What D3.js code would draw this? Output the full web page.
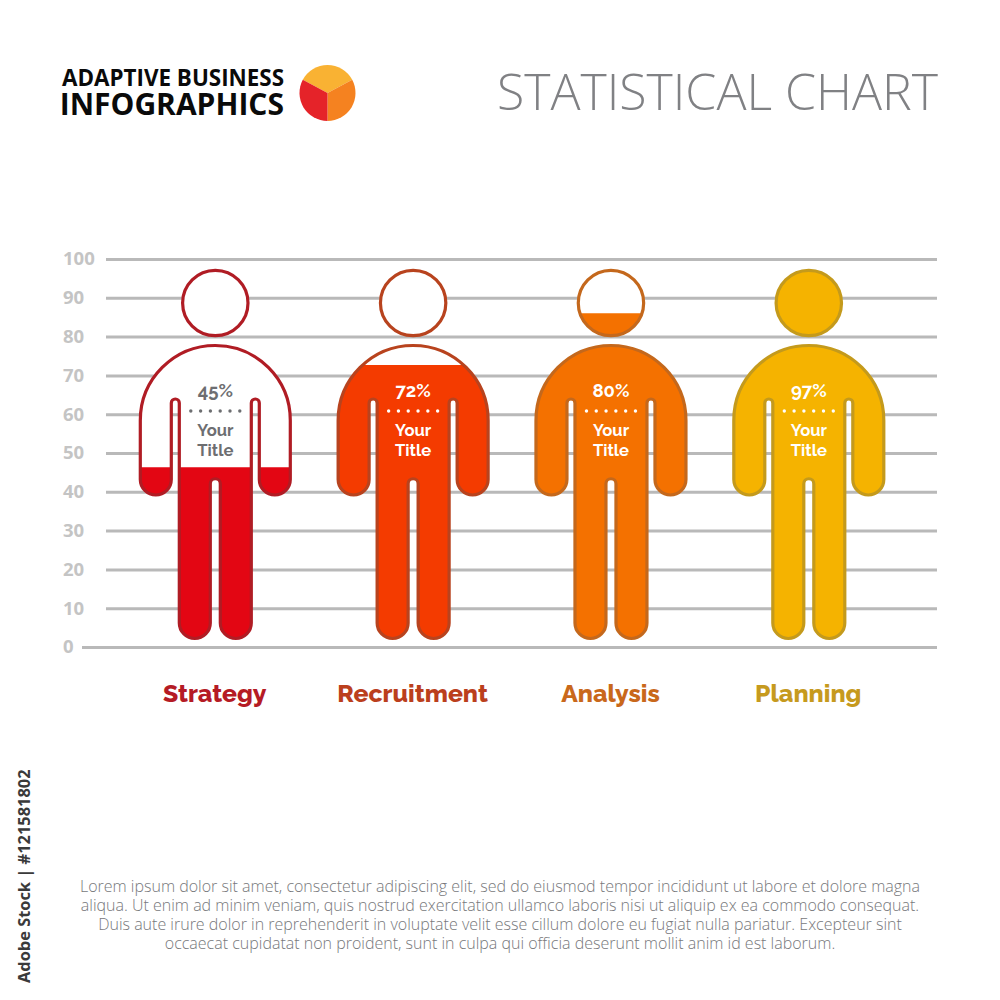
<!DOCTYPE html>
<html><head><meta charset="utf-8">
<script src="https://cdn.jsdelivr.net/npm/d3@7/dist/d3.min.js"></script>
<style>html,body{margin:0;padding:0;background:#fff}svg{display:block}</style>
</head><body><svg id="c" width="1000" height="1000"></svg>
<script>
const categories = ["Strategy","Recruitment","Analysis","Planning"];
const percentLabels = [45,72,80,97];
const fillLevels = [46.3,72.7,86,97];
const fillColors = ["#e30613","#f43b00","#f47100","#f5b300"];
const strokeColors = ["#b01c24","#b8431e","#c4681c","#c49a1c"];
const labelColors = ["#b51b25","#bb3f1d","#c9681b","#c69a1e"];
const textColors = ["#6d6e71","#fff","#fff","#fff"];
const yTicks = [0,10,20,30,40,50,60,70,80,90,100];
const bodyLines = [
 "Lorem ipsum dolor sit amet, consectetur adipiscing elit, sed do eiusmod tempor incididunt ut labore et dolore magna",
 "aliqua. Ut enim ad minim veniam, quis nostrud exercitation ullamco laboris nisi ut aliquip ex ea commodo consequat.",
 "Duis aute irure dolor in reprehenderit in voluptate velit esse cillum dolore eu fugiat nulla pariatur. Excepteur sint",
 "occaecat cupidatat non proident, sunt in culpa qui officia deserunt mollit anim id est laborum."];
const logoShares = [124,118,118];
const logoColors = ["#f9b233","#f58220","#e52329"];

const svg = d3.select("#c");
const y = d3.scaleLinear().domain([0,100]).range([647,259]);
const x = d3.scalePoint().domain(categories).range([215.3,808.8]);

// header
svg.append("text").attr("x",284).attr("y",85.5).attr("text-anchor","end")
 .attr("font-family","Open Sans").attr("font-weight",700).attr("font-size",22.4).attr("fill","#0a0a0a").text("ADAPTIVE BUSINESS");
svg.append("text").attr("x",284).attr("y",115).attr("text-anchor","end")
 .attr("font-family","Open Sans").attr("font-weight",700).attr("font-size",30).attr("fill","#0a0a0a").text("INFOGRAPHICS");
const logo = svg.append("g").attr("transform","translate(327.5,93)");
const pie = d3.pie().sort(null).startAngle(-62*Math.PI/180).endAngle(298*Math.PI/180);
logo.selectAll("path").data(pie(logoShares)).join("path")
 .attr("d",d3.arc().innerRadius(0).outerRadius(28)).attr("fill",(d,i)=>logoColors[i]);
svg.append("text").attr("x",938).attr("y",110).attr("text-anchor","end")
 .attr("font-family","Open Sans").attr("font-weight",300).attr("font-size",50).attr("fill","#808184").text("STATISTICAL CHART");

// axis + gridlines
const axis = d3.axisLeft(y).tickValues(yTicks).tickSize(0).tickPadding(0);
const gAxis = svg.append("g").call(axis);
gAxis.select(".domain").remove();
gAxis.selectAll(".tick text").attr("x",63).attr("text-anchor","start")
 .attr("font-family","Open Sans").attr("font-weight",700).attr("font-size",18.5).attr("fill","#c4c4c4");
gAxis.selectAll(".tick").append("line")
 .attr("x1",d=>d===0?82:106).attr("x2",937).attr("y1",0).attr("y2",0)
 .attr("stroke","#b9b9b9").attr("stroke-width",3);

// person
const bodyPath = () => {
 const p = d3.path();
 p.moveTo(-75,420.5); p.arc(0,420.5,75,Math.PI,0);
 p.lineTo(75,479.5); p.arc(59.5,479.5,15.5,0,Math.PI);
 p.lineTo(44,403); p.arc(40,403,4,0,Math.PI,true);
 p.lineTo(36,623); p.arc(20.5,623,15.5,0,Math.PI);
 p.lineTo(5,483.75); p.arc(0,483.75,5,0,Math.PI,true);
 p.lineTo(-5,623); p.arc(-20.5,623,15.5,0,Math.PI);
 p.lineTo(-36,403); p.arc(-40,403,4,0,Math.PI,true);
 p.lineTo(-44,479.5); p.arc(-59.5,479.5,15.5,0,Math.PI);
 p.closePath();
 return p.toString();
};
const defs = svg.append("defs");
categories.forEach((c,i)=>{
 defs.append("clipPath").attr("id","lvl"+i).append("rect")
  .attr("x",-90).attr("width",180).attr("y",y(fillLevels[i])).attr("height",y(0)-y(fillLevels[i]));
});
const people = svg.selectAll("g.person").data(categories).join("g").attr("class","person")
 .attr("transform",d=>`translate(${x(d)},0)`);
const shape = g => {
 g.append("circle").attr("cy",303).attr("r",32.7);
 g.append("path").attr("d",bodyPath());
};
people.append("g").attr("fill","#fff").call(shape);
people.append("g").attr("clip-path",(d,i)=>`url(#lvl${i})`).attr("fill",(d,i)=>fillColors[i]).call(shape);
people.append("g").attr("fill","none").attr("stroke",(d,i)=>strokeColors[i]).attr("stroke-width",3.2).call(shape);

const font = "Raleway, Lato, sans-serif";
people.append("text").attr("y",397).attr("text-anchor","middle").attr("font-family",font).attr("font-weight",700)
 .attr("font-size",18.5).attr("fill",(d,i)=>textColors[i]).text((d,i)=>percentLabels[i]+"%");
people.each(function(d,i){
 d3.select(this).selectAll("circle.dot").data(d3.range(6)).join("circle").attr("class","dot")
  .attr("cx",k=>-24.5+k*9.8).attr("cy",411).attr("r",1.7).attr("fill",textColors[i]);
});
["Your","Title"].forEach((t,k)=>{
 people.append("text").attr("y",436+k*20).attr("text-anchor","middle").attr("font-family",font).attr("font-weight",700)
  .attr("font-size",16.6).attr("fill",(d,i)=>textColors[i]).text(t);
});
svg.selectAll("text.cat").data(categories).join("text").attr("class","cat")
 .attr("x",d=>x(d)-0.5).attr("y",702).attr("text-anchor","middle").attr("font-family",font).attr("font-weight",800)
 .attr("font-size",24.8).attr("fill",(d,i)=>labelColors[i]).text(d=>d);

// body copy
svg.selectAll("text.body").data(bodyLines).join("text").attr("class","body")
 .attr("x",500).attr("y",(d,i)=>[891.5,910.5,929.5,949][i]).attr("text-anchor","middle")
 .attr("font-family","Open Sans").attr("font-weight",300).attr("font-size",16).attr("fill","#77787b").text(d=>d);

// stock id
svg.append("text").attr("transform","translate(30,983) rotate(-90)")
 .attr("font-family","Open Sans").attr("font-weight",700).attr("font-size",16.4).attr("fill","#3a3a3a").text("Adobe Stock | #121581802");
</script></body></html>
